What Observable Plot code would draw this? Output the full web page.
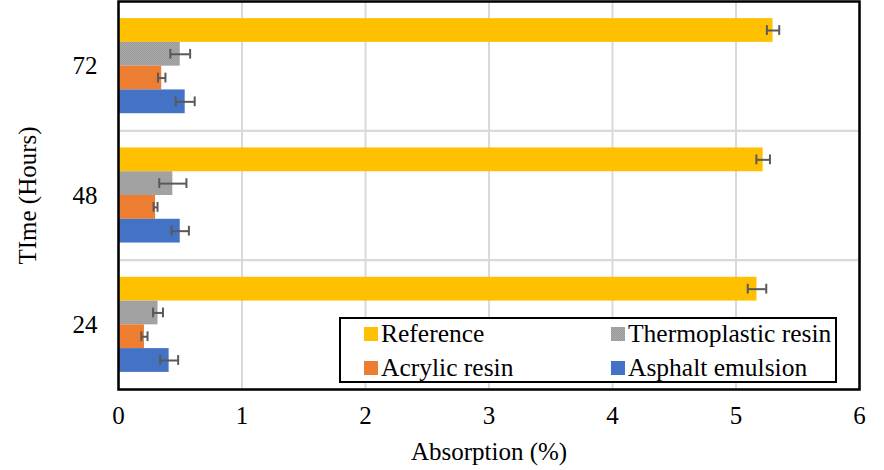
<!DOCTYPE html>
<html>
<head>
<meta charset="utf-8">
<script src="https://cdn.jsdelivr.net/npm/d3@7"></script>
<script src="https://cdn.jsdelivr.net/npm/@observablehq/plot@0.6"></script>
<style>
  html, body { margin: 0; padding: 0; background: #fff; }
  #wrap { position: relative; width: 884px; height: 470px; font-family: "Liberation Serif", "DejaVu Serif", serif; }
  #wrap svg text { font-family: "Liberation Serif", "DejaVu Serif", serif; }
  #legend { position: absolute; left: 339px; top: 317px; width: 494px; height: 62px; border: 2px solid #000; background: #fff; font-size: 25.5px; color: #000; font-family: "Liberation Serif", "DejaVu Serif", serif; }
  .item { position: absolute; display: flex; align-items: center; white-space: nowrap; line-height: 1; }
  .sw { width: 14px; height: 14px; margin-right: 3px; display: inline-block; }
</style>
</head>
<body>
<div id="wrap"></div>
<script>
const times = ["72", "48", "24"];
const series = ["Reference", "Thermoplastic resin", "Acrylic resin", "Asphalt emulsion"];
const colors = ["#FFC000", "url(#tpPattern)", "#ED7D31", "#4472C4"];
// values per series, in order of times (72, 48, 24)
const reference = [5.30, 5.22, 5.17];
const thermoplastic = [0.50, 0.44, 0.32];
const acrylic = [0.35, 0.30, 0.21];
const asphalt = [0.54, 0.50, 0.41];
const referenceErr = [0.05, 0.055, 0.075];
const thermoplasticErr = [0.08, 0.11, 0.04];
const acrylicErr = [0.03, 0.016, 0.025];
const asphaltErr = [0.077, 0.07, 0.073];
const xTicks = [0, 1, 2, 3, 4, 5, 6];

const valueSets = [reference, thermoplastic, acrylic, asphalt];
const errSets = [referenceErr, thermoplasticErr, acrylicErr, asphaltErr];
const rows = [];
series.forEach((s, si) => times.forEach((t, ti) => rows.push({series: s, time: t, value: valueSets[si][ti], err: errSets[si][ti]})));

const errColor = "#595959";
const chart = Plot.plot({
  width: 884, height: 470,
  marginLeft: 118, marginRight: 25, marginTop: 1, marginBottom: 81,
  style: {fontFamily: "Liberation Serif, DejaVu Serif, serif", fontSize: "25px", color: "#000", background: "#fff", overflow: "visible"},
  x: {domain: [0, 6]},
  fy: {domain: times, padding: 0, round: false},
  y: {domain: series, paddingInner: 0, paddingOuter: 0.72, round: false, axis: null},
  color: {domain: series, range: colors},
  marks: [
    Plot.frame({stroke: "#d9d9d9", strokeWidth: 2}),
    Plot.gridX(xTicks, {stroke: "#d9d9d9", strokeOpacity: 1, strokeWidth: 2}),
    Plot.barX(rows, {fy: "time", y: "series", x: "value", fill: "series"}),
    Plot.ruleY(rows, {fy: "time", y: "series", x1: d => d.value - d.err, x2: d => d.value + d.err, stroke: errColor, strokeWidth: 2}),
    Plot.tickX(rows, {fy: "time", y: "series", x: d => d.value - d.err, stroke: errColor, strokeWidth: 2, insetTop: 7, insetBottom: 7}),
    Plot.tickX(rows, {fy: "time", y: "series", x: d => d.value + d.err, stroke: errColor, strokeWidth: 2, insetTop: 7, insetBottom: 7}),
    Plot.frame({facet: "super", stroke: "#000", strokeWidth: 2.5}),
    Plot.axisX(xTicks, {anchor: "bottom", tickSize: 0, tickPadding: 17, label: "Absorption (%)", labelAnchor: "center", labelArrow: "none", labelOffset: 70, tickFormat: d => String(d)}),
    Plot.axisFy({anchor: "left", tickSize: 0, tickPadding: 21, label: "TIme (Hours)", labelAnchor: "center", labelOffset: 100})
  ]
});

// pattern definition for the thermoplastic resin fill
const ns = "http://www.w3.org/2000/svg";
const defs = document.createElementNS(ns, "defs");
defs.innerHTML = '<pattern id="tpPattern" width="2" height="2" patternUnits="userSpaceOnUse">' +
  '<rect width="2" height="2" fill="#a9a9a9"/><rect width="1" height="1" fill="#9a9a9a"/><rect x="1" y="1" width="1" height="1" fill="#9a9a9a"/></pattern>';
chart.insertBefore(defs, chart.firstChild);

const wrap = document.getElementById("wrap");
wrap.appendChild(chart);

// legend inside the plot area
const legend = document.createElement("div");
legend.id = "legend";
const pos = [[23, 15], [270, 15], [23, 49], [270, 49]];
series.forEach((s, i) => {
  const it = document.createElement("div");
  it.className = "item";
  it.style.left = pos[i][0] + "px";
  it.style.top = (pos[i][1] - 13) + "px";
  it.style.height = "26px";
  it.innerHTML = `<svg class="sw" width="14" height="14"><rect width="14" height="14" fill="${colors[i]}"/></svg><span>${s}</span>`;
  legend.appendChild(it);
});
wrap.appendChild(legend);
</script>
</body>
</html>
